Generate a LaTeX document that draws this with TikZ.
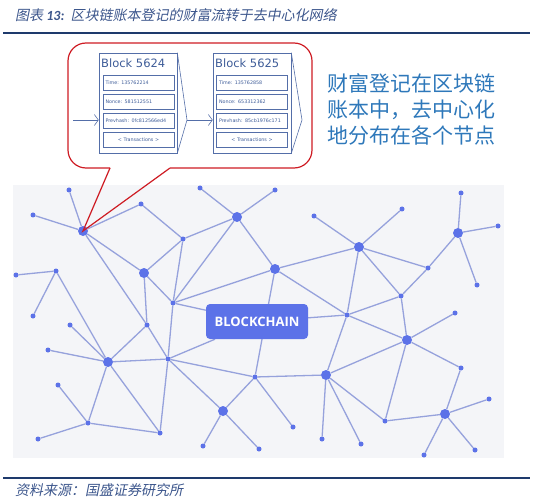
\documentclass[tikz,border=0pt]{standalone}
\usepackage{fontspec}
\usepackage{tikz}
\usetikzlibrary{arrows.meta}
\newfontfamily\cjk{Noto Sans CJK SC}
\newfontfamily\cjkit[FakeSlant=0.2]{Noto Sans CJK SC}
\newfontfamily\dejavu{DejaVu Sans}
\newfontfamily\opensans{Open Sans}
\newfontfamily\carlito{Carlito}
\definecolor{nodeblue}{RGB}{92,114,232}
\definecolor{edgeblue}{RGB}{150,162,220}
\definecolor{panelgray}{RGB}{244,245,248}
\definecolor{blockline}{RGB}{84,110,168}
\definecolor{blocktext}{RGB}{62,92,152}
\definecolor{calloutred}{RGB}{206,28,36}
\definecolor{notetext}{RGB}{46,120,186}
\definecolor{headtext}{RGB}{60,86,140}
\definecolor{rulenavy}{RGB}{30,58,108}
\pgfdeclarelayer{panel}
\pgfdeclarelayer{bg}
\pgfsetlayers{panel,bg,main}

\begin{document}
\begin{tikzpicture}[x=1pt,y=1pt]
                \tikzstyle{every node}+=[inner sep=0pt]
                \tikzstyle{big}=[circle,fill=nodeblue,minimum size=10pt]
                \tikzstyle{small}=[circle,fill=nodeblue,minimum size=5pt]
                \tikzstyle{edge}=[edgeblue,line width=1.3pt]
                \tikzstyle{blockbox}=[draw=blockline,line width=0.6pt,minimum width=78pt,minimum height=100pt]
                \tikzstyle{field}=[draw=blockline,line width=0.6pt,inner xsep=2.5pt,text width=66pt,align=left,minimum height=15pt,text=blocktext,font=\dejavu\fontsize{4.8}{5}\selectfont]
                \tikzstyle{blocktitle}=[anchor=west,text=blocktext,font=\dejavu\fontsize{11.5}{13}\selectfont]
                \tikzstyle{link}=[blockline,line width=0.6pt]
                \useasboundingbox (0,0) rectangle (546,-497);
                \node [anchor=west,text=headtext,font=\fontsize{14}{16}\selectfont] (title) at (15,-15) {\cjkit 图表 {\carlito\bfseries\itshape 13:}\ \ 区块链账本登记的财富流转于去中心化网络};
                \draw [rulenavy,line width=2pt] (3,-33) -- (530,-33);
                \draw [rulenavy,line width=2pt] (3,-478) -- (530,-478);
                \node [anchor=west,text=headtext,font=\fontsize{14}{16}\selectfont] (source) at (15,-490) {\cjkit 资料来源：国盛证券研究所};
                \begin{pgfonlayer}{panel}
                \fill [panelgray] (13,-185) rectangle (504,-458);
                \end{pgfonlayer}
                \node [big] (A) at (83,-231) {};
                \node [big] (B) at (144,-273) {};
                \node [big] (C) at (237,-217) {};
                \node [big] (D) at (275,-269) {};
                \node [big] (E) at (359,-247) {};
                \node [big] (F) at (458,-233) {};
                \node [big] (G) at (108,-362) {};
                \node [big] (H) at (326,-375) {};
                \node [big] (I) at (223,-411) {};
                \node [big] (J) at (407,-340) {};
                \node [big] (K) at (445,-414) {};
                \node [small] (n1) at (69,-190) {};
                \node [small] (n2) at (33,-215) {};
                \node [small] (n3) at (141,-204) {};
                \node [small] (n4) at (173,-303) {};
                \node [small] (n5) at (16,-275) {};
                \node [small] (n6) at (56,-271) {};
                \node [small] (n7) at (33,-316) {};
                \node [small] (n8) at (200,-188) {};
                \node [small] (n9) at (275,-190) {};
                \node [small] (n10) at (183,-239) {};
                \node [small] (n11) at (314,-216) {};
                \node [small] (n12) at (347,-315) {};
                \node [small] (n13) at (461,-193) {};
                \node [small] (n14) at (402,-209) {};
                \node [small] (n15) at (498,-226) {};
                \node [small] (n16) at (428,-268) {};
                \node [small] (n17) at (477,-285) {};
                \node [small] (n18) at (401,-296) {};
                \node [small] (n19) at (455,-313) {};
                \node [small] (n20) at (70,-325) {};
                \node [small] (n21) at (147,-325) {};
                \node [small] (n22) at (48,-350) {};
                \node [small] (n23) at (168,-359) {};
                \node [small] (n24) at (58,-385) {};
                \node [small] (n25) at (88,-423) {};
                \node [small] (n26) at (160,-433) {};
                \node [small] (n27) at (38,-439) {};
                \node [small] (n28) at (255,-377) {};
                \node [small] (n29) at (293,-427) {};
                \node [small] (n30) at (322,-439) {};
                \node [small] (n31) at (203,-446) {};
                \node [small] (n32) at (259,-449) {};
                \node [small] (n33) at (461,-368) {};
                \node [small] (n34) at (489,-399) {};
                \node [small] (n35) at (385,-421) {};
                \node [small] (n36) at (361,-444) {};
                \node [small] (n37) at (424,-455) {};
                \node [small] (n38) at (475,-450) {};
                \node [fill=nodeblue,rounded corners=4pt,minimum width=102pt,minimum height=35pt,text=white,font=\opensans\bfseries\fontsize{13}{15}\selectfont] (bc) at (257,-321.5) {BLOCKCHAIN};
                \begin{pgfonlayer}{bg}
                \draw [edge] (n1) -- (A);
                \draw [edge] (n2) -- (A);
                \draw [edge] (A) -- (n3);
                \draw [edge] (A) -- (B);
                \draw [edge] (A) -- (n21);
                \draw [edge] (B) -- (n10);
                \draw [edge] (B) -- (n4);
                \draw [edge] (B) -- (n21);
                \draw [edge] (n3) -- (n10);
                \draw [edge] (n10) -- (C);
                \draw [edge] (n10) -- (n4);
                \draw [edge] (n5) -- (n6);
                \draw [edge] (n6) -- (n7);
                \draw [edge] (n6) -- (G);
                \draw [edge] (n8) -- (C);
                \draw [edge] (n9) -- (C);
                \draw [edge] (C) -- (n4);
                \draw [edge] (C) -- (D);
                \draw [edge] (D) -- (n4);
                \draw [edge] (D) -- (E);
                \draw [edge] (D) -- (n28);
                \draw [edge] (D) -- (n12);
                \draw [edge] (n11) -- (E);
                \draw [edge] (n14) -- (E);
                \draw [edge] (E) -- (n16);
                \draw [edge] (E) -- (n18);
                \draw [edge] (E) -- (n12);
                \draw [edge] (n13) -- (F);
                \draw [edge] (n15) -- (F);
                \draw [edge] (F) -- (n17);
                \draw [edge] (F) -- (n16);
                \draw [edge] (n16) -- (n18);
                \draw [edge] (n18) -- (n12);
                \draw [edge] (n18) -- (J);
                \draw [edge] (n19) -- (J);
                \draw [edge] (n12) -- (J);
                \draw [edge] (n12) -- (H);
                \draw [edge] (J) -- (H);
                \draw [edge] (J) -- (n33);
                \draw [edge] (n33) -- (K);
                \draw [edge] (J) -- (n35);
                \draw [edge] (H) -- (n35);
                \draw [edge] (n35) -- (K);
                \draw [edge] (K) -- (n34);
                \draw [edge] (K) -- (n37);
                \draw [edge] (K) -- (n38);
                \draw [edge] (H) -- (n36);
                \draw [edge] (H) -- (n30);
                \draw [edge] (H) -- (n28);
                \draw [edge] (n28) -- (I);
                \draw [edge] (n28) -- (n29);
                \draw [edge] (I) -- (n31);
                \draw [edge] (I) -- (n32);
                \draw [edge] (n23) -- (I);
                \draw [edge] (n23) -- (n28);
                \draw [edge] (n23) -- (bc);
                \draw [edge] (n4) -- (bc);
                \draw [edge] (bc) -- (n12);
                \draw [edge] (n4) -- (n23);
                \draw [edge] (n20) -- (G);
                \draw [edge] (n21) -- (G);
                \draw [edge] (n22) -- (G);
                \draw [edge] (G) -- (n23);
                \draw [edge] (G) -- (n25);
                \draw [edge] (G) -- (n26);
                \draw [edge] (n24) -- (n25);
                \draw [edge] (n25) -- (n27);
                \draw [edge] (n25) -- (n26);
                \draw [edge] (n23) -- (n26);
                \draw [edge] (n21) -- (n23);
                \end{pgfonlayer}
                \coordinate (tailL) at (110,-168);
                \coordinate (tailR) at (170,-168);
                \draw [calloutred,line width=1.2pt,rounded corners=18pt] (tailL) -| (68,-43) -| (312,-168) -- (tailR);
                \draw [calloutred,line width=1.2pt] (tailL) -- (A.center) -- (tailR);
                \node [blockbox] (blkA) at (138,-103) {};
                \node [blocktitle] (titleA) at (101,-63) {Block 5624};
                \node [field] (timeA) at (138.5,-82.5) {Time: 135762214};
                \node [field] (nonceA) at (138.5,-102) {Nonce: 581512551};
                \node [field] (prevA) at (138.5,-121) {Prevhash: 0fc812566ed4};
                \node [field,align=center] (txA) at (138.5,-140) {< Transactions >};
                \coordinate (tipA) at (187,-120);
                \draw [link] (blkA.north east) -- (tipA) -- (blkA.south east);
                \node [blockbox] (blkB) at (252,-103) {};
                \node [blocktitle] (titleB) at (215,-63) {Block 5625};
                \node [field] (timeB) at (252,-82.5) {Time: 135762858};
                \node [field] (nonceB) at (252,-102) {Nonce: 653312362};
                \node [field] (prevB) at (252,-121) {Prevhash: 85cb1976c171};
                \node [field,align=center] (txB) at (252,-140) {< Transactions >};
                \coordinate (tipB) at (302,-120);
                \draw [link] (blkB.north east) -- (tipB) -- (blkB.south east);
                \coordinate (inA) at (73,-120);
                \draw [link,-{Straight Barb[length=4pt,width=11pt]}] (inA) -- (inA -| blkA.west);
                \draw [link,-{Straight Barb[length=4pt,width=11pt]}] (tipA) -- (tipA -| blkB.west);
                \node [anchor=west,align=left,text=notetext,font=\cjk\fontsize{21}{26}\selectfont] (note) at (327,-109) {财富登记在区块链\\账本中，去中心化\\地分布在各个节点};
              \end{tikzpicture}
\end{document}
